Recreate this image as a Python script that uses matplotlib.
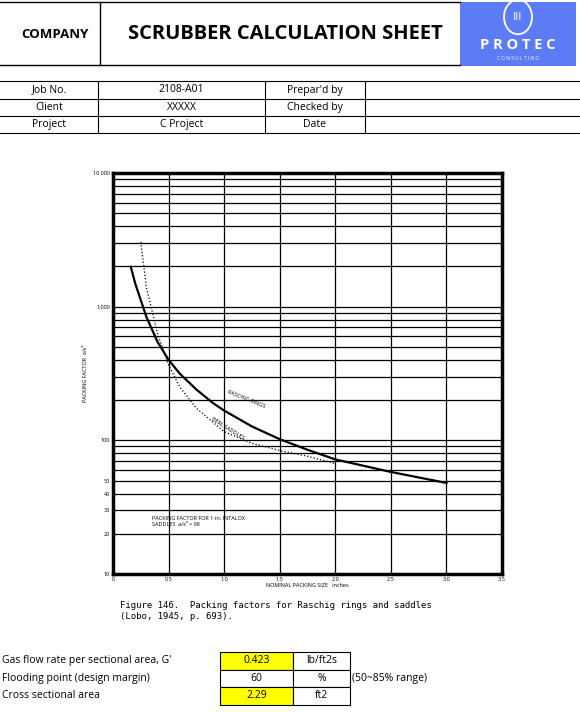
import matplotlib
matplotlib.use("Agg")
import matplotlib.pyplot as plt
from matplotlib.patches import Rectangle, Circle
import numpy as np

W, H = 580, 712
# data
raschig_x = [0.16, 0.2, 0.3, 0.4, 0.5, 0.6, 0.75, 0.9, 1.0, 1.25, 1.5, 1.75, 2.0, 2.5, 3.0]
raschig_y = [1990, 1490, 840, 547, 400, 316, 240, 190, 167, 127, 102, 85, 72, 58, 48]
berl_x = [0.25, 0.3, 0.4, 0.5, 0.6, 0.75, 1.0, 1.25, 1.5, 1.75, 2.0]
berl_y = [3050, 1400, 630, 366, 251, 174, 116, 95, 84, 76, 67]
y_major = [10, 100, 1000, 10000]
y_major_labels = ["10", "100", "1,000", "10 000"]
y_extra = [20, 30, 40, 50]
x_ticks = [0, 0.5, 1.0, 1.5, 2.0, 2.5, 3.0, 3.5]
x_tick_labels = ["0", "0.5", "1.0", "1.5", "2.0", "2.5", "3.0", "3.5"]
info_rows = [["Job No.", "2108-A01", "Prepar'd by", ""],
             ["Client", "XXXXX", "Checked by", ""],
             ["Project", "C Project", "Date", ""]]
input_labels = ["Gas flow rate per sectional area, G'", "Flooding point (design margin)", "Cross sectional area"]
input_values = ["0.423", "60", "2.29"]
input_units = ["lb/ft2s", "%", "ft2"]
input_notes = ["", "(50~85% range)", ""]
input_yellow = [True, False, True]

fig = plt.figure(figsize=(W/100, H/100), dpi=100)
plt.rcParams['font.family'] = ['Open Sans', 'DejaVu Sans']

def fx(px): return px / W
def fy(py): return 1 - py / H

def rect(x0, y0, x1, y1, fc="none", ec="black", lw=0.8):
    fig.patches.append(Rectangle((fx(x0), fy(y1)), fx(x1) - fx(x0), fy(y0) - fy(y1),
                                 transform=fig.transFigure, fc=fc, ec=ec, lw=lw))

def line(x0, y0, x1, y1, lw=0.8, c="black"):
    fig.add_artist(plt.Line2D([fx(x0), fx(x1)], [fy(y0), fy(y1)], transform=fig.transFigure, lw=lw, color=c))

# header
line(0, 2, 460, 2, 1.0); line(0, 65, 460, 65, 1.0); line(100, 2, 100, 65, 1.0)
fig.text(fx(55), fy(34), "COMPANY", ha="center", va="center", fontsize=9.5, fontweight="bold")
fig.text(fx(285), fy(34), "SCRUBBER CALCULATION SHEET", ha="center", va="center", fontsize=14.5, fontweight="bold")
rect(460, 2, 576, 66, fc="#5b7cf5", ec="none")
fig.patches.append(Circle((fx(518), fy(17)), 14/W, transform=fig.transFigure, fc="none", ec="white", lw=1.3))
fig.text(fx(518), fy(17), "III", ha="center", va="center", fontsize=8, color="white")
fig.text(fx(518), fy(45), "P R O T E C", ha="center", va="center", fontsize=10.5, color="white", fontweight="bold")
fig.text(fx(518), fy(59), "C O N S U L T I N G", ha="center", va="center", fontsize=3.5, color="white")

# info table
cols = [0, 98, 265, 365, 580]
rows = [81, 99, 116, 133]
for r in rows: line(0, r, 580, r, 0.8)
for c in cols[1:-1]: line(c, rows[0], c, rows[-1], 0.8)
for i, row in enumerate(info_rows):
    for j, t in enumerate(row):
        fig.text(fx((cols[j] + cols[j+1]) / 2), fy((rows[i] + rows[i+1]) / 2), t, ha="center", va="center", fontsize=7.5)

# chart
ax = fig.add_axes([fx(113), fy(574), fx(502) - fx(113), fy(173) - fy(574)])
ax.set_yscale("log")
ax.set_xlim(0, 3.5); ax.set_ylim(10, 10000)
grid_y = [v * m for m in [10, 100, 1000] for v in range(1, 10)] + [10000]
for g in grid_y:
    ax.axhline(g, color="black", lw=0.9)
for g in x_ticks:
    ax.axvline(g, color="black", lw=0.9)
ax.plot(raschig_x, raschig_y, color="black", lw=1.6)
ax.plot(berl_x, berl_y, color="black", lw=0.9, ls=":")
ax.text(1.02, 172, "RASCHIG RINGS", fontsize=4, rotation=-22, va="bottom")
ax.text(0.88, 150, "BERL SADDLES", fontsize=4, rotation=-32, va="top")
ax.text(0.35, 27, "PACKING FACTOR FOR 1-in. INTALOX\nSADDLES  a/\u03b5\u00b3 = 98", fontsize=4, va="top")
for s in ax.spines.values(): s.set_linewidth(2.5)
ax.set_yticks(y_major + y_extra)
ax.set_yticklabels(y_major_labels + ["20", "30", "40", "50"], fontsize=4)
ax.yaxis.set_minor_locator(matplotlib.ticker.NullLocator())
ax.set_xticks(x_ticks); ax.set_xticklabels(x_tick_labels, fontsize=4)
ax.tick_params(length=0, pad=2)
ax.set_xlabel("NOMINAL PACKING SIZE   inches", fontsize=4, labelpad=1)
ax.set_ylabel("PACKING FACTOR  a/\u03b5\u00b3", fontsize=4)
fig.text(fx(120), fy(611), "Figure 146.  Packing factors for Raschig rings and saddles\n(Lobo, 1945, p. 693).",
         fontsize=6.5, family="DejaVu Sans Mono", va="center", ha="left")

# inputs
r0, rh = 652, 17.5
for i in range(3):
    y0 = r0 + i * rh; y1 = y0 + rh; yc = (y0 + y1) / 2
    fig.text(fx(2), fy(yc), input_labels[i], ha="left", va="center", fontsize=7.5)
    rect(220, y0, 293, y1, fc="#ffff00" if input_yellow[i] else "white")
    rect(293, y0, 350, y1, fc="white")
    fig.text(fx(256.5), fy(yc), input_values[i], ha="center", va="center", fontsize=7.5)
    fig.text(fx(321.5), fy(yc), input_units[i], ha="center", va="center", fontsize=7.5)
    fig.text(fx(352), fy(yc), input_notes[i], ha="left", va="center", fontsize=7.5)

fig.savefig("out.png", dpi=100)
